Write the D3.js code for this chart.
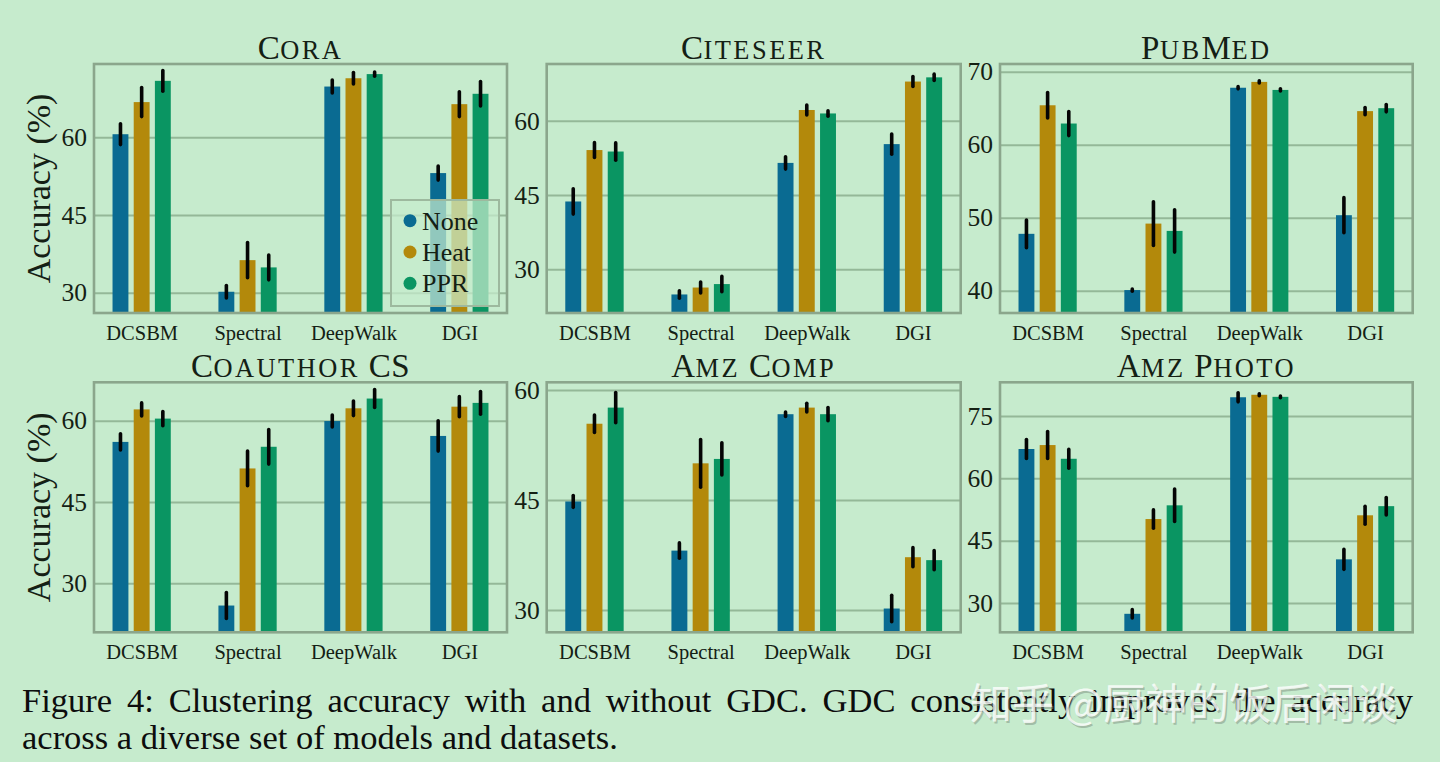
<!DOCTYPE html>
<html>
<head>
<meta charset="utf-8">
<script src="https://cdn.jsdelivr.net/npm/d3@7"></script>
<style>
  html, body { margin: 0; padding: 0; background: #c6ebcd; }
  svg { display: block; }
</style>
</head>
<body>
<div id="chart"></div>
<script>
// datasets, models and diffusion variants
var datasets = ["Cora", "Citeseer", "PubMed", "Coauthor CS", "Amz Comp", "Amz Photo"];
var models = ["DCSBM", "Spectral", "DeepWalk", "DGI"];
var variants = ["None", "Heat", "PPR"];

// mean accuracy per variant (None, Heat, PPR) x model
var coraMean     = [[60.6, 30.2, 69.8, 53.1], [66.8, 36.3, 71.4, 66.4], [70.9, 34.9, 72.2, 68.4]];
var coraErr      = [[2.0, 1.2, 1.25, 1.35],   [2.8, 3.4, 1.1, 2.4],     [2.0, 2.4, 0.4, 2.35]];
var citeseerMean = [[43.7, 24.9, 51.5, 55.3], [54.1, 26.3, 62.2, 67.95], [53.8, 27.0, 61.5, 68.8]];
var citeseerErr  = [[2.55, 0.75, 1.25, 2.05], [1.5, 1.1, 1.0, 1.0],     [1.75, 1.55, 0.55, 0.65]];
var pubmedMean   = [[47.8, 40.1, 67.8, 50.35], [65.4, 49.2, 68.6, 64.6], [62.9, 48.2, 67.5, 65.0]];
var pubmedErr    = [[1.9, 0.15, 0.15, 2.4],   [1.75, 3.0, 0.15, 0.5],   [1.65, 2.9, 0.15, 0.5]];
var coauthorMean = [[56.1, 25.9, 59.95, 57.2], [62.1, 51.2, 62.3, 62.6], [60.4, 55.2, 64.1, 63.3]];
var coauthorErr  = [[1.5, 2.4, 1.1, 2.8],     [1.2, 3.2, 1.35, 1.85],   [1.3, 3.2, 1.65, 2.1]];
var compMean     = [[44.8, 38.1, 56.7, 30.2], [55.4, 50.0, 57.6, 37.2], [57.6, 50.6, 56.7, 36.8]];
var compErr      = [[0.8, 1.05, 0.3, 1.8],    [1.2, 3.25, 0.6, 1.3],    [2.05, 2.2, 0.9, 1.3]];
var photoMean    = [[67.05, 27.4, 79.5, 40.5], [68.0, 50.2, 80.1, 51.1], [64.7, 53.5, 79.6, 53.3]];
var photoErr     = [[2.3, 1.0, 1.1, 2.4],     [3.25, 2.2, 0.25, 2.15],  [2.25, 3.9, 0.2, 2.1]];

// y axis limits and ticks per dataset
var yLimits = [[26.1, 74.15], [21.15, 71.5], [36.96, 71.05], [20.96, 67.1], [26.96, 61.05], [22.95, 83.1]];
var yTicks = [[30, 45, 60], [30, 45, 60], [40, 50, 60, 70], [30, 45, 60], [30, 45, 60], [30, 45, 60, 75]];

var captionLines = [
    "Figure 4: Clustering accuracy with and without GDC. GDC consistently improves the accuracy",
    "across a diverse set of models and datasets."
];
var watermark = "知乎 @厨神的饭后闲谈";

var means = [coraMean, citeseerMean, pubmedMean, coauthorMean, compMean, photoMean],
    errs = [coraErr, citeseerErr, pubmedErr, coauthorErr, compErr, photoErr];

var W = 1440, H = 762,
    BG = "#c6ebcd",
    FRAME = "#8ba68c",
    GRID = "#94b898",
    INK = "#142014",
    SERIF = "'Liberation Serif', 'Times New Roman', serif",
    colors = ["#0a6b92", "#b3890b", "#0a9562"];

var colLeft = [94, 546.7, 1000],
    colRight = [507, 960.7, 1412.7],
    rowTop = [64, 382.3],
    rowBottom = [313, 632.3];

var svg = d3.select("#chart").append("svg")
    .attr("width", W)
    .attr("height", H);

svg.append("rect")
    .attr("width", W)
    .attr("height", H)
    .style("fill", BG);

// small caps title built from tspans
function smallCaps(sel, str, size) {
    var parts = str.match(/[A-Z ]+|[^A-Z ]+/g);
    parts.forEach(function(p) {
        var upper = /[A-Z ]/.test(p[0]);
        sel.append("tspan")
            .attr("font-size", upper ? size : size * 0.8)
            .attr("letter-spacing", upper ? 0.5 : 2.5)
            .text(upper ? p : p.toUpperCase());
    });
}

function drawPanel(k) {
    var col = k % 3, row = Math.floor(k / 3),
        x0 = colLeft[col], x1 = colRight[col],
        y0 = rowTop[row], y1 = rowBottom[row];

    var x = d3.scaleLinear().domain([-0.45, 3.45]).range([x0, x1]);
    var y = d3.scaleLinear().domain(yLimits[k]).range([y1, y0]);
    var g = svg.append("g").attr("class", "panel");

    // grid
    var yAxis = d3.axisLeft(y).tickValues(yTicks[k]).tickSize(-(x1 - x0)).tickPadding(7);
    var ya = g.append("g")
        .attr("transform", "translate(" + x0 + ",0)")
        .call(yAxis);
    ya.select(".domain").remove();
    ya.selectAll(".tick line")
        .style("stroke", GRID)
        .style("stroke-width", 2);
    ya.selectAll(".tick text")
        .style("font-family", SERIF)
        .style("font-size", "25.5px")
        .style("fill", INK);

    // bars
    var offsets = [-0.2, 0, 0.2], bw = 0.15;
    variants.forEach(function(v, vi) {
        g.selectAll(".bar-" + vi)
            .data(models)
            .enter()
            .append("rect")
            .attr("x", function(d, mi) {return x(mi + offsets[vi] - bw / 2);})
            .attr("y", function(d, mi) {return y(means[k][vi][mi]);})
            .attr("width", x(bw) - x(0))
            .attr("height", function(d, mi) {return y(yLimits[k][0]) - y(means[k][vi][mi]);})
            .style("fill", colors[vi]);
    });

    // error bars
    variants.forEach(function(v, vi) {
        g.selectAll(".err-" + vi)
            .data(models)
            .enter()
            .append("line")
            .attr("x1", function(d, mi) {return x(mi + offsets[vi]);})
            .attr("x2", function(d, mi) {return x(mi + offsets[vi]);})
            .attr("y1", function(d, mi) {return y(means[k][vi][mi] - errs[k][vi][mi]);})
            .attr("y2", function(d, mi) {return y(means[k][vi][mi] + errs[k][vi][mi]);})
            .style("stroke", "#050505")
            .style("stroke-width", 3.6)
            .style("stroke-linecap", "round");
    });

    // frame
    g.append("rect")
        .attr("x", x0)
        .attr("y", y0)
        .attr("width", x1 - x0)
        .attr("height", y1 - y0)
        .style("fill", "none")
        .style("stroke", FRAME)
        .style("stroke-width", 2.6);

    // x tick labels
    var xAxis = d3.axisBottom(x).tickValues([0, 1, 2, 3]).tickSize(0).tickPadding(12)
        .tickFormat(function(d) {return models[d];});
    var xa = g.append("g")
        .attr("transform", "translate(0," + y1 + ")")
        .call(xAxis);
    xa.select(".domain").remove();
    xa.selectAll(".tick text")
        .style("font-family", SERIF)
        .style("font-size", "20.5px")
        .style("fill", INK);

    // title
    var t = g.append("text")
        .attr("x", (x0 + x1) / 2)
        .attr("y", y0 - 5.5)
        .attr("text-anchor", "middle")
        .style("font-family", SERIF)
        .style("fill", INK);
    smallCaps(t, datasets[k], 33);

    if(col === 0) {
        g.append("text")
            .attr("transform", "translate(50," + ((y0 + y1) / 2) + ") rotate(-90)")
            .attr("text-anchor", "middle")
            .style("font-family", SERIF)
            .style("font-size", "34px")
            .style("fill", INK)
            .text("Accuracy (%)");
    }

    return {x0: x0, x1: x1, y0: y0, y1: y1};
}

var boxes = [];
for(var k=0; k<datasets.length; k++) {
    boxes.push(drawPanel(k));
}

// legend inside the Cora panel
function drawLegend(b) {
    var lg = svg.append("g").attr("class", "legend");
    var lx = b.x1 - 116, ly = b.y1 - 113;
    lg.append("rect")
        .attr("x", lx)
        .attr("y", ly)
        .attr("width", 108)
        .attr("height", 106)
        .style("fill", BG)
        .style("fill-opacity", 0.72)
        .style("stroke", "#9db99e")
        .style("stroke-width", 2);
    variants.forEach(function(v, i) {
        var cy = ly + 20.7 + i * 31.3;
        lg.append("circle")
            .attr("cx", lx + 19)
            .attr("cy", cy)
            .attr("r", 6.5)
            .style("fill", colors[i]);
        lg.append("text")
            .attr("x", lx + 31)
            .attr("y", cy)
            .attr("dy", "0.35em")
            .style("font-family", SERIF)
            .style("font-size", "26px")
            .style("fill", INK)
            .text(v);
    });
}
drawLegend(boxes[0]);

// caption, first line justified by word spacing
var cap1 = svg.append("text")
    .attr("x", 22)
    .attr("y", 712)
    .style("font-family", SERIF)
    .style("font-size", "34.5px")
    .style("fill", "#0d0d0d")
    .text(captionLines[0]);
var natural = cap1.node().getComputedTextLength(),
    spaces = captionLines[0].split(" ").length - 1;
cap1.style("word-spacing", ((1391 - natural) / spaces) + "px");

svg.append("text")
    .attr("x", 22)
    .attr("y", 749)
    .style("font-family", SERIF)
    .style("font-size", "34.5px")
    .style("fill", "#0d0d0d")
    .text(captionLines[1]);

// watermark
svg.append("text")
    .attr("x", 970)
    .attr("y", 719)
    .attr("transform", "translate(1.5,1.5)")
    .style("font-family", "'Noto Sans CJK SC', sans-serif")
    .style("font-size", "42px")
    .style("fill", "#7f8f80")
    .style("fill-opacity", 0.5)
    .text(watermark);
svg.append("text")
    .attr("x", 970)
    .attr("y", 719)
    .style("font-family", "'Noto Sans CJK SC', sans-serif")
    .style("font-size", "42px")
    .style("fill", "#ffffff")
    .style("fill-opacity", 0.8)
    .text(watermark);
</script>
</body>
</html>
